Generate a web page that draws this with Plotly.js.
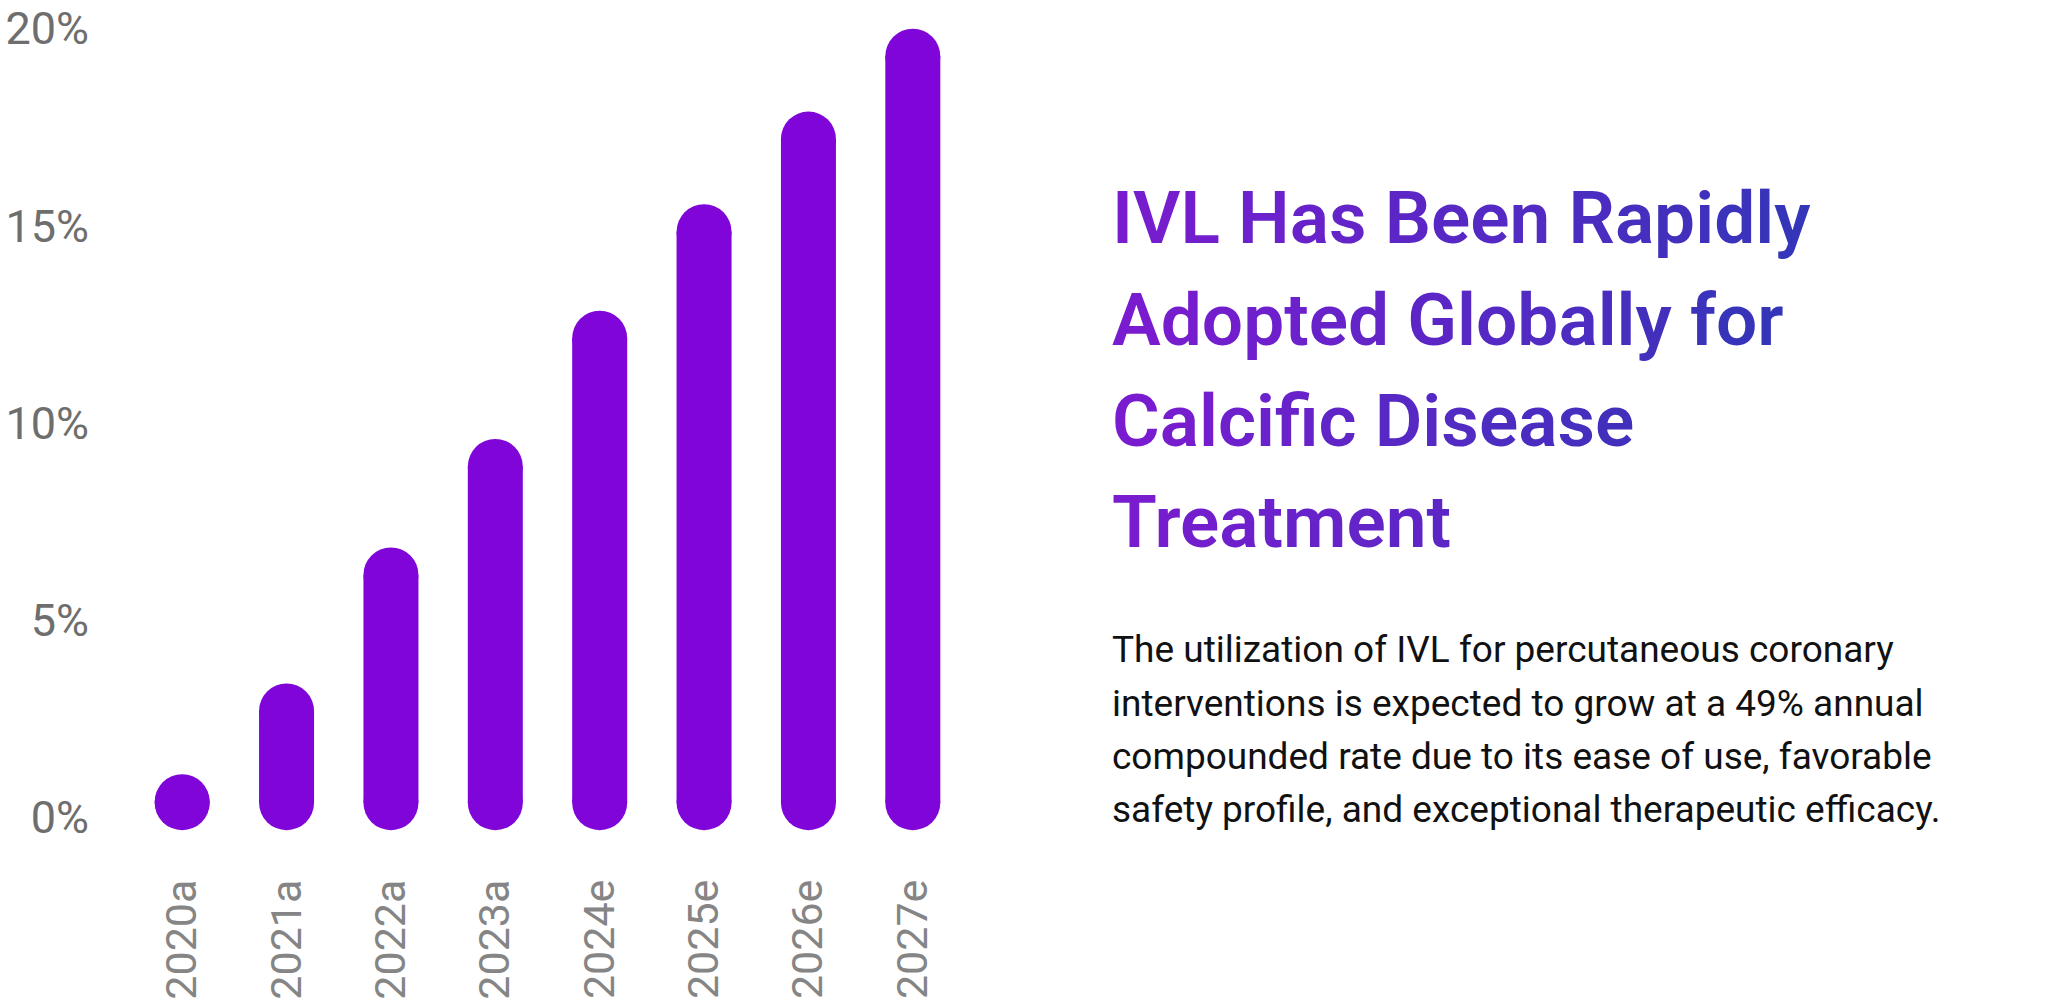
<!DOCTYPE html>
<html>
<head>
<meta charset="utf-8">
<script src="https://cdn.plot.ly/plotly-3.0.1.min.js"></script>
<style>
  html, body { margin: 0; padding: 0; background: #ffffff; overflow: hidden; }
  #chart { width: 2048px; height: 1006px; }
</style>
</head>
<body>
<div id="chart"></div>
<script>
// ---------- data ----------
const years = ['2020a', '2021a', '2022a', '2023a', '2024e', '2025e', '2026e', '2027e'];
const adoptionPct = [1.1, 3.4, 6.85, 9.6, 12.85, 15.55, 17.9, 20.0];
const yTickValues = [0, 5, 10, 15, 20];
const yTickLabels = ['0%', '5%', '10%', '15%', '20%'];
const titleLines = ['IVL Has Been Rapidly', 'Adopted Globally for', 'Calcific Disease', 'Treatment'];
const bodyLines = [
  'The utilization of IVL for percutaneous coronary',
  'interventions is expected to grow at a 49% annual',
  'compounded rate due to its ease of use, favorable',
  'safety profile, and exceptional therapeutic efficacy.'
];

// ---------- layout constants ----------
const W = 2048, H = 1006;
const M = { l: 130, r: 1083, t: 9, b: 149 };
const Y_RANGE = [-1.0, 20.5];
const BAR_PX = 55;
const BAR_COLOR = '#8005d9';
const BASE = -0.32;               // bottom edge of the pills
const plotH = H - M.t - M.b;
const plotW = W - M.l - M.r;
const pxPerUnit = plotH / (Y_RANGE[1] - Y_RANGE[0]);
const rUnits = (BAR_PX / 2) / pxPerUnit;

// pills: thick line + round end caps drawn with circle markers
const traces = years.map((yr, i) => {
  const lo = BASE + rUnits;
  const hi = Math.max(adoptionPct[i] - rUnits, lo);
  return {
    type: 'scatter',
    mode: 'lines+markers',
    x: [yr, yr],
    y: [lo, hi],
    line: { color: BAR_COLOR, width: BAR_PX },
    marker: { color: BAR_COLOR, size: BAR_PX, line: { width: 0 } },
    hoverinfo: 'skip',
    showlegend: false,
    cliponaxis: false
  };
});

// gradient title text (per character colour)
function hex2rgb(h) { return [1, 3, 5].map(k => parseInt(h.substr(k, 2), 16)); }
const G0 = hex2rgb('#7b1bd0'), G1 = hex2rgb('#3236b8');
function gradColor(t) {
  t = Math.max(0, Math.min(1, t));
  const c = G0.map((v, k) => Math.round(v + (G1[k] - v) * t));
  return 'rgb(' + c.join(',') + ')';
}
const maxLen = Math.max(...titleLines.map(s => s.length));
function gradientText(s) {
  let out = '';
  for (let i = 0; i < s.length; i++) {
    out += '<span style="color:' + gradColor((i + 0.5) / maxLen) + '">' + s[i] + '</span>';
  }
  return out;
}

const px2x = px => (px - M.l) / plotW;
const px2y = py => (H - M.b - py) / plotH;

const TEXT_X = 1110;
const titleCenters = [218.3, 319.5, 420.8, 522.2];
const bodyCenters = [649.7, 703.2, 756.5, 809.8];

const annotations = [];
titleLines.forEach((s, i) => {
  annotations.push({
    xref: 'paper', yref: 'paper',
    x: px2x(TEXT_X), y: px2y(titleCenters[i]),
    xanchor: 'left', yanchor: 'middle',
    showarrow: false, align: 'left',
    text: gradientText(s),
    font: { family: 'Roboto, sans-serif', size: 73, weight: 600, color: '#6a22c8' }
  });
});
bodyLines.forEach((s, i) => {
  annotations.push({
    xref: 'paper', yref: 'paper',
    x: px2x(TEXT_X), y: px2y(bodyCenters[i]),
    xanchor: 'left', yanchor: 'middle',
    showarrow: false, align: 'left',
    text: s,
    font: { family: 'Roboto, sans-serif', size: 37, color: '#111111' }
  });
});

const layout = {
  width: W, height: H,
  margin: M,
  paper_bgcolor: '#ffffff',
  plot_bgcolor: '#ffffff',
  showlegend: false,
  xaxis: {
    type: 'category',
    categoryorder: 'array',
    categoryarray: years,
    range: [-0.5, years.length - 0.5],
    showgrid: false, zeroline: false, showline: false,
    ticks: '',
    tickangle: -90,
    ticklabelstandoff: 13,
    tickfont: { family: 'Roboto, sans-serif', size: 43, color: '#858585' },
    fixedrange: true
  },
  yaxis: {
    range: Y_RANGE,
    tickmode: 'array',
    tickvals: yTickValues,
    ticktext: yTickLabels,
    showgrid: false, zeroline: false, showline: false,
    ticks: '',
    ticklabelstandoff: 40,
    tickfont: { family: 'Roboto, sans-serif', size: 45, color: '#6e6e6e' },
    fixedrange: true
  },
  annotations: annotations
};

Plotly.newPlot('chart', traces, layout, { displayModeBar: false, staticPlot: true });
</script>
</body>
</html>
